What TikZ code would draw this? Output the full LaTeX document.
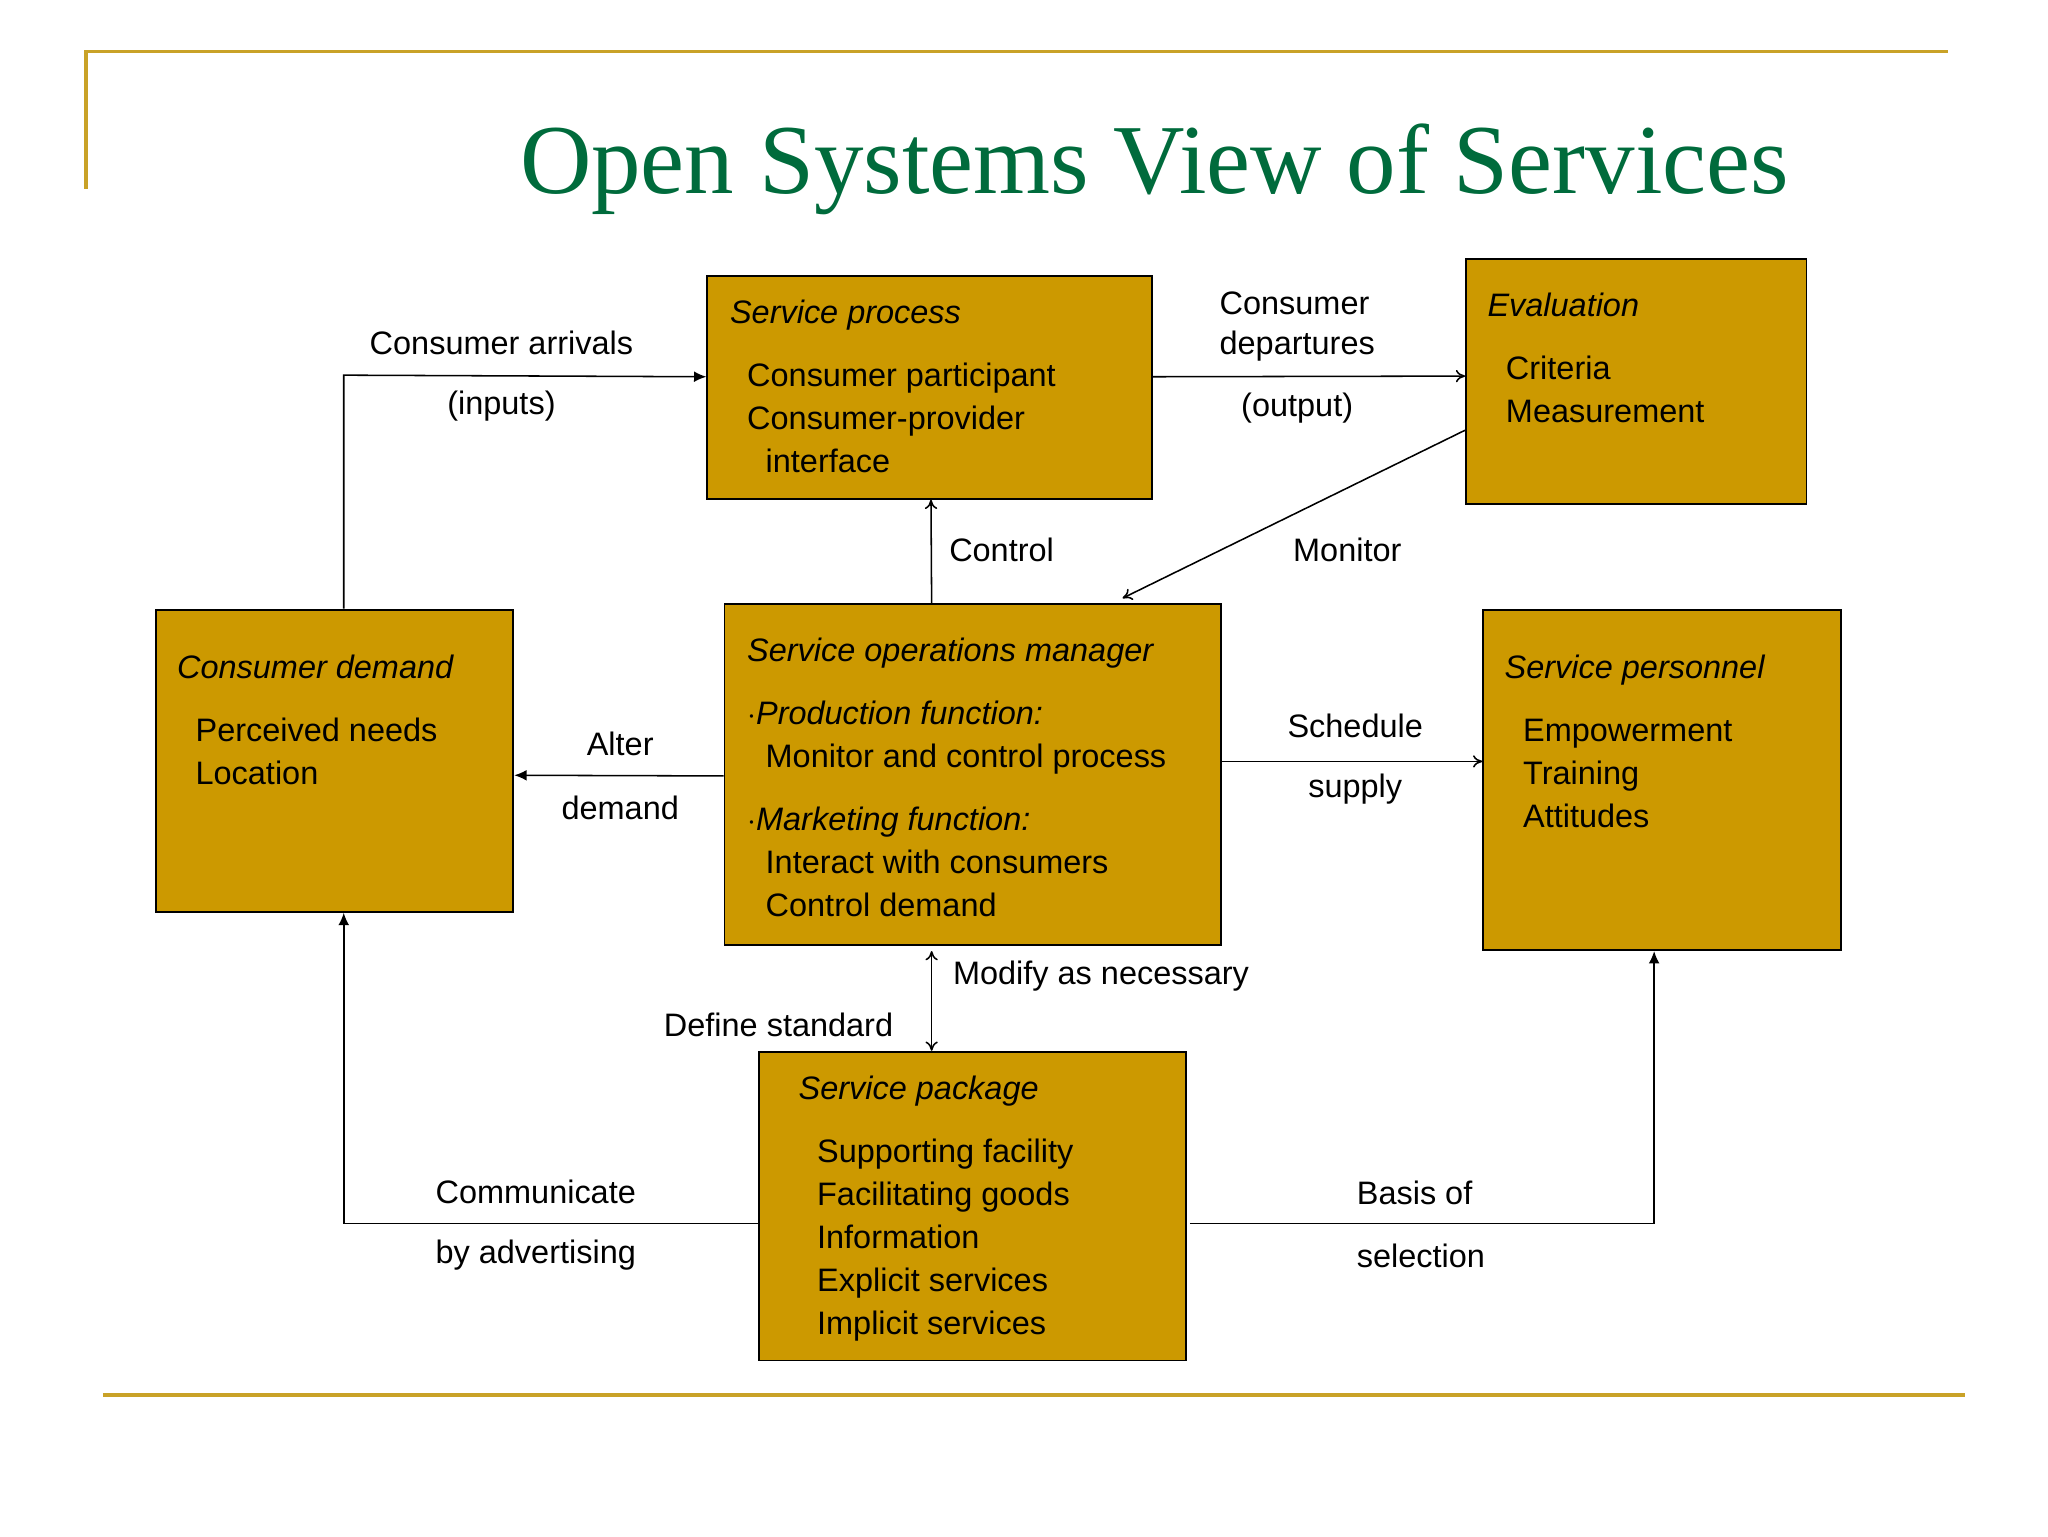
\documentclass[tikz,border=0pt]{standalone}
\usepackage{fontspec}
\setmainfont{Liberation Sans}
\newfontfamily\titlefont{Liberation Serif}
\usetikzlibrary{positioning,fit,calc,arrows.meta}
\definecolor{boxgold}{HTML}{CC9900}
\definecolor{rulegold}{HTML}{C9A227}
\definecolor{titlegreen}{HTML}{006B3C}
\begin{document}
\begin{tikzpicture}[x=0.03cm,y=-0.03cm]
        \tikzstyle{box_style} = [draw=black, line width=1.2pt, fill=boxgold, inner sep=0pt]
        \tikzstyle{txt_style} = [anchor=north west, align=left, inner sep=0pt, font=\fontsize{21}{27.9}\selectfont]
        \tikzstyle{lbl_style} = [inner sep=0pt, font=\fontsize{21}{27.9}\selectfont]
        \tikzstyle{arrow_open} = [-{To[length=6pt,width=8pt]}, black, line width=1pt]
        \tikzstyle{arrow_fill} = [-{Latex[length=8pt,width=7pt]}, black, line width=1pt]

        \useasboundingbox (0,0) rectangle (1552,1164);

        % slide frame and title
        \coordinate (r1) at (65,143);
        \coordinate (r2) at (65,39);
        \coordinate (r3) at (1476,39);
        \coordinate (r4) at (78,1057);
        \coordinate (r5) at (1489,1057);
        \draw[rulegold, line width=2.5pt] (r1) -- (r2) -- (r3);
        \draw[rulegold, line width=2.5pt] (r4) -- (r5);
        \node[titlegreen, font=\titlefont\fontsize{64}{70}\selectfont] (title) at (875,128) {Open Systems View of Services};

        % the boxes
        \node[box_style, fit={(536,209) (873,378)}] (proc) {};
        \node[box_style, fit={(1111,196) (1369,382)}] (eval) {};
        \node[box_style, fit={(118,462) (389,691)}] (dem) {};
        \node[box_style, fit={(549,458) (925,716)}] (mgr) {};
        \node[box_style, fit={(1124,462) (1395,720)}] (pers) {};
        \node[box_style, fit={(575,797) (899,1031)}] (pack) {};

        % box texts
        \node[txt_style] (proc_t) at (553,227) {\textit{Service process}\\[0.45cm]
            \hspace{0.39cm}Consumer participant\\
            \hspace{0.39cm}Consumer-provider\\
            \hspace{0.81cm}interface};
        \node[txt_style] (eval_t) at (1127,222) {\textit{Evaluation}\\[0.45cm]
            \hspace{0.42cm}Criteria\\
            \hspace{0.42cm}Measurement};
        \node[txt_style] (dem_t) at (134,496) {\textit{Consumer demand}\\[0.45cm]
            \hspace{0.42cm}Perceived needs\\
            \hspace{0.42cm}Location};
        \node[txt_style] (mgr_t) at (566,483) {\textit{Service operations manager}\\[0.45cm]
            \textit{$\cdot$Production function:}\\
            \hspace{0.42cm}Monitor and control process\\[0.45cm]
            \textit{$\cdot$Marketing function:}\\
            \hspace{0.42cm}Interact with consumers\\
            \hspace{0.42cm}Control demand};
        \node[txt_style] (pers_t) at (1140,496) {\textit{Service personnel}\\[0.45cm]
            \hspace{0.42cm}Empowerment\\
            \hspace{0.42cm}Training\\
            \hspace{0.42cm}Attitudes};
        \node[txt_style] (pack_t) at (605,815) {\textit{Service package}\\[0.45cm]
            \hspace{0.42cm}Supporting facility\\
            \hspace{0.42cm}Facilitating goods\\
            \hspace{0.42cm}Information\\
            \hspace{0.42cm}Explicit services\\
            \hspace{0.42cm}Implicit services};

        % connectors
        \draw[arrow_fill] ($(dem.north)+(7,0)$) -- ($(dem.north)+(7,-177)$) -- ($(proc.west)+(0,-8)$);
        \draw[arrow_open] ($(proc.east)+(0,-8)$) -- ($(eval.west)+(0,-4)$);
        \draw[arrow_open] ($(mgr.north)+(-31,0)$) -- ($(proc.south)+(1,0)$);
        \draw[arrow_open] ($(eval.west)+(0,37)$) -- ($(mgr.north east)+(-75,-4)$);
        \draw[arrow_fill] ($(mgr.west)+(0,1)$) -- ($(dem.east)+(0,11)$);
        \draw[arrow_open] ($(mgr.east)+(0,-10)$) -- ($(pers.west)+(0,-14)$);
        \draw[arrow_open, {To[length=6pt,width=8pt]}-{To[length=6pt,width=8pt]}] ($(mgr.south)+(-31,4)$) -- ($(pack.north)+(-31,0)$);
        \draw[arrow_fill] ($(pack.west)+(0,13)$) -| ($(dem.south)+(7,0)$);
        \draw[arrow_fill] ($(pack.east)+(2,13)$) -| ($(pers.south)+(-6,0)$);

        % connector labels
        \node[lbl_style] (l1) at (380,260) {Consumer arrivals};
        \node[lbl_style] (l2) at (380,308) {(inputs)};
        \node[lbl_style, anchor=west] (l3) at (924,230) {Consumer};
        \node[lbl_style, anchor=west] (l4) at (924,262) {departures};
        \node[lbl_style] (l5) at (983,309) {(output)};
        \node[lbl_style] (l6) at (759,417) {Control};
        \node[lbl_style] (l7) at (1021,417) {Monitor};
        \node[lbl_style] (l8) at (470,564) {Alter};
        \node[lbl_style] (l9) at (470,612) {demand};
        \node[lbl_style] (l10) at (1027,550) {Schedule};
        \node[lbl_style] (l11) at (1027,598) {supply};
        \node[lbl_style, anchor=west] (l12) at (722,740) {Modify as necessary};
        \node[lbl_style] (l13) at (590,777) {Define standard};
        \node[lbl_style] (l14) at (406,903) {Communicate};
        \node[lbl_style] (l15) at (406,951) {by advertising};
        \node[lbl_style, anchor=west] (l16) at (1028,904) {Basis of};
        \node[lbl_style, anchor=west] (l17) at (1028,952) {selection};
    \end{tikzpicture}
\end{document}
